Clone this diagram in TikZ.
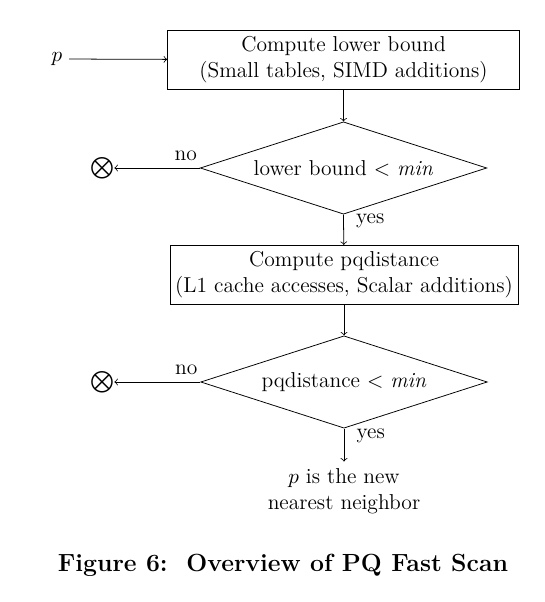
\documentclass[tikz,border=0pt]{standalone}
\usepackage{amsmath}
\usepackage{amssymb}
\usepackage{tikz}
\usetikzlibrary{shapes.geometric}

\begin{document}
\begin{tikzpicture}[x=0.52pt,y=-0.52pt,font=\fontsize{11.2}{13.5}\selectfont,
        stepbox/.style={draw,align=center,minimum width=183pt,minimum height=29pt,inner xsep=2pt},
        test/.style={draw,diamond,aspect=3,minimum width=149pt,minimum height=48pt,inner sep=0pt},
        stop/.style={inner sep=0pt}]
        \useasboundingbox (0,0) rectangle (544,602);
        % first test
        \node (p) at (57,59) {$p$};
        \node[stepbox] (lb) at (343.5,60) {Compute lower bound\\(Small tables, SIMD additions)};
        \node[test] (t1) at (343.5,168) {lower bound $<$ \emph{min}};
        \node[stop] (x1) at (102,168) {$\bigotimes$};
        % second test
        \node[stepbox,minimum width=181pt,inner xsep=1pt] (pq) at (344,275) {Compute pqdistance\\(L1 cache accesses, Scalar additions)};
        \node[test] (t2) at (344,382) {pqdistance $<$ \emph{min}};
        \node[stop] (x2) at (102,382) {$\bigotimes$};
        \node[align=center] (nn) at (344,491) {$p$ is the new\\nearest neighbor};
        \node (cap) at (283,565) {\fontsize{12.9}{15}\selectfont\bfseries Figure 6:\ \ Overview of PQ Fast Scan};
        \draw[->] (p) -- (lb);
        \draw[->] (lb) -- (t1);
        \draw[->] (t1.west) -- node[above left,pos=0,xshift=2pt] {no} (x1);
        \draw[->] (t1.south) -- node[right,pos=0.22,xshift=3pt] {yes} (pq);
        \draw[->] (pq) -- (t2);
        \draw[->] (t2.west) -- node[above left,pos=0,xshift=2pt] {no} (x2);
        \draw[->] (t2.south) -- node[right,pos=0.22,xshift=3pt] {yes} (nn);
\end{tikzpicture}
\end{document}
